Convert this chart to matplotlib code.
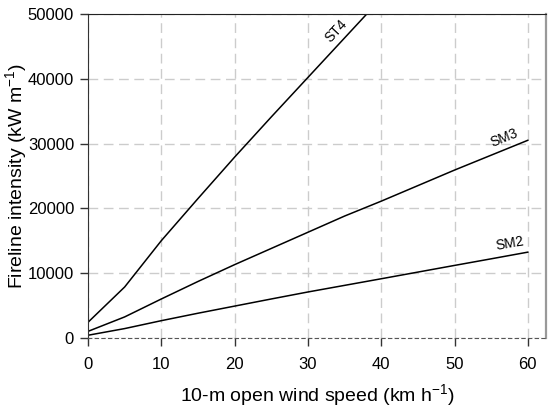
import numpy as np
import matplotlib
matplotlib.use("Agg")
import matplotlib.pyplot as plt

plt.rcParams['font.family'] = ['Liberation Sans', 'DejaVu Sans']
plt.rcParams['mathtext.default'] = 'regular'

wind = [0, 5, 10, 15, 20, 25, 30, 35, 40, 45, 50, 55, 60]
st4 = [2400, 7850, 15000, 21500, 27900, 34100, 40200, 46300, 52400,
       58500, 64600, 70700, 76800]
sm3 = [1000, 3230, 6000, 8700, 11300, 13800, 16300, 18800, 21100,
       23500, 25900, 28200, 30500]
sm2 = [400, 1430, 2650, 3800, 4900, 6000, 7080, 8100, 9120,
       10150, 11180, 12200, 13230]

labels = ["ST4", "SM3", "SM2"]
label_pos = [(33.8, 47400), (56.8, 30900), (57.5, 14500)]
label_rot = [47, 22, 10]

fig = plt.figure(figsize=(5.5, 4.11), dpi=100)
ax = fig.add_axes([0.16, 0.178, 0.833, 0.788])

for ys in (st4, sm3, sm2):
    ax.plot(wind, ys, color='black', lw=1.1)

for lab, (x, y), r in zip(labels, label_pos, label_rot):
    ax.text(x, y, lab, rotation=r, ha='center', va='center',
            fontsize=10, rotation_mode='anchor')

ax.set_xlim(0, 62.5)
ax.set_ylim(0, 50000)
ax.set_xticks([0, 10, 20, 30, 40, 50, 60])
ax.set_yticks([0, 10000, 20000, 30000, 40000, 50000])
ax.tick_params(labelsize=12, length=6, width=1, color='#333333',
               direction='out', pad=4)
ax.tick_params(axis='x', pad=8)

ax.grid(True, color='#cccccc', linestyle=(0, (7, 4)), lw=1)
ax.set_axisbelow(True)

ax.spines['top'].set_color('#222222')
ax.spines['left'].set_color('#333333')
ax.spines['right'].set_color('#999999')
ax.spines['right'].set_linewidth(1.6)
ax.spines['bottom'].set_color('#555555')
ax.spines['bottom'].set_linestyle((0, (3, 3)))

ax.set_xlabel(r'10-m open wind speed (km h$^{-1}$)', fontsize=14, labelpad=7)
ax.set_ylabel(r'Fireline intensity (kW m$^{-1}$)', fontsize=14)
ax.yaxis.set_label_coords(-0.128, 0.5)

fig.savefig('out.png', dpi=100)
